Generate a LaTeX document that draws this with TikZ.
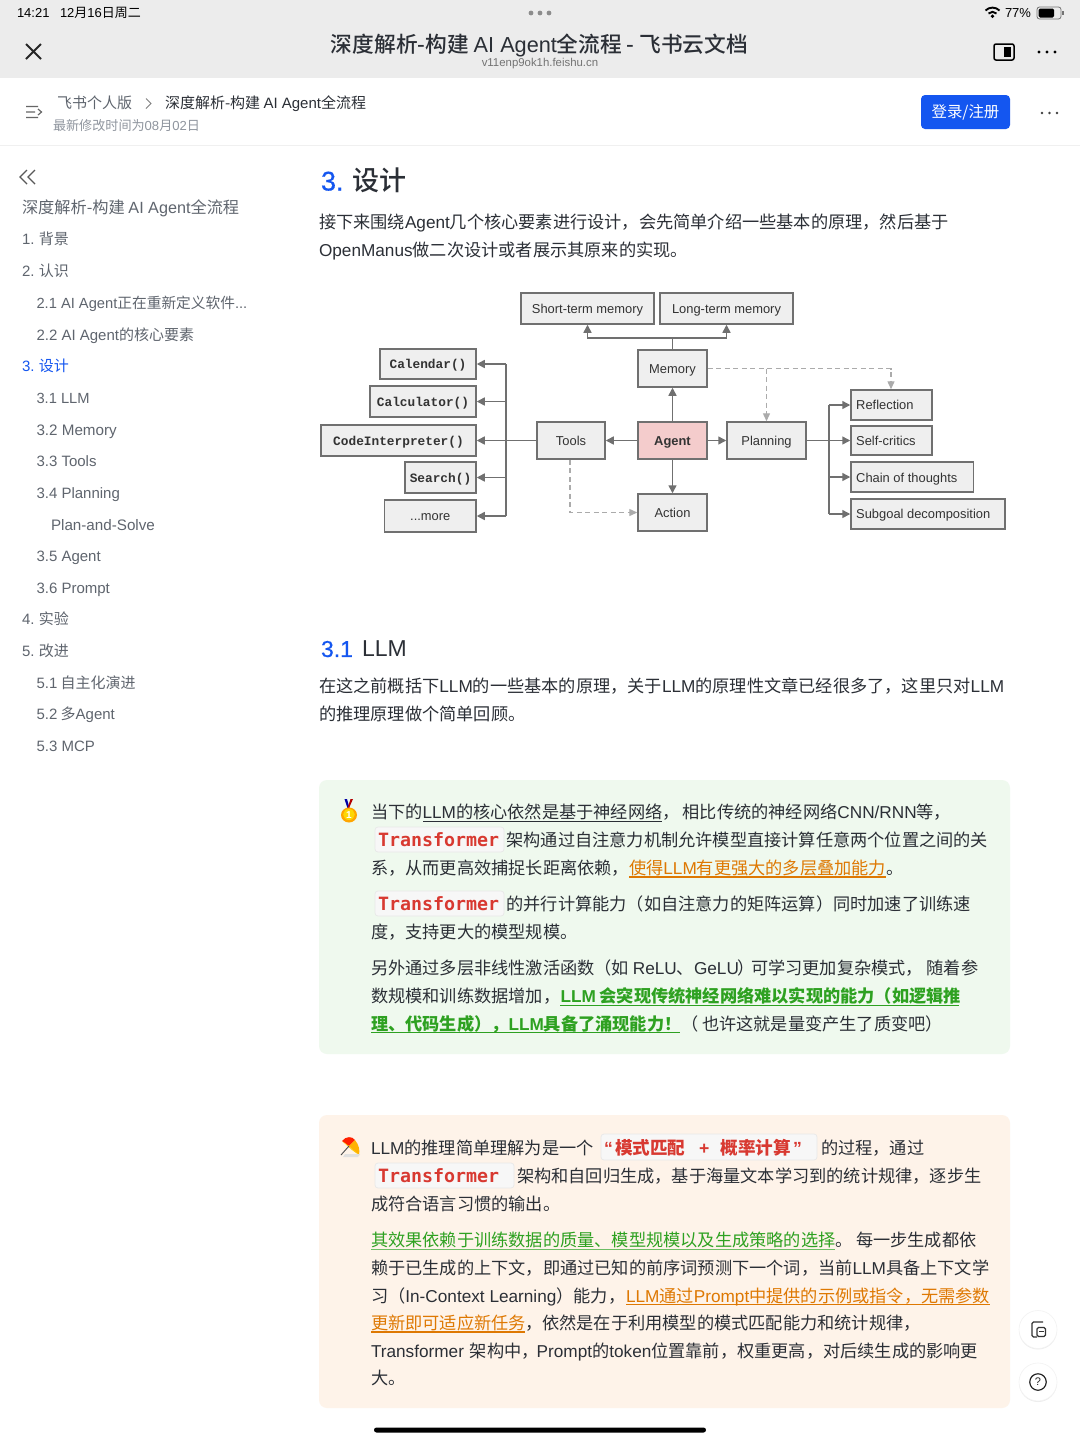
\documentclass[tikz,border=0pt]{standalone}
\usepackage{fontspec}
\setmainfont{Noto Sans CJK SC}
\newfontfamily\medfam{Noto Sans CJK SC Medium}
\newfontfamily\latnfam{Liberation Sans}
\newfontfamily\semifam[FakeBold=0.5]{Liberation Sans}
\newfontfamily\codefam{DejaVu Sans Mono}
\newfontfamily\fnfam{Liberation Mono}
\newcommand{\latn}[1]{{\latnfam #1}}
\usetikzlibrary{arrows.meta,shadows}
\definecolor{ink}{HTML}{2B2F36}
\definecolor{side}{HTML}{5F656E}
\definecolor{soft}{HTML}{8F959E}
\definecolor{blueA}{HTML}{1456F0}
\definecolor{redC}{HTML}{D83931}
\definecolor{orangeT}{HTML}{DE7802}
\definecolor{greenT}{HTML}{2EA121}
\definecolor{boxF}{HTML}{EFEFEF}
\definecolor{boxL}{HTML}{707070}
\definecolor{dashL}{HTML}{ABABAB}
\definecolor{greenBg}{HTML}{EFF9EE}
\definecolor{orangeBg}{HTML}{FEF3E9}
\definecolor{agentF}{HTML}{F4CCCC}
\newcounter{tn}
\newcommand{\T}[5]{\stepcounter{tn}\node[txt,text=#4] (t\arabic{tn}) at ({#1},{#2+0.39*#3}) {\fontsize{#3}{#3}\selectfont #5};}
\newcommand{\B}[3]{\T{#1}{#2}{17.2}{ink}{#3}}
\newcommand{\Code}[5]{\stepcounter{tn}\node[codebox,minimum width=#3-#1,minimum height=#4-#2] (c\arabic{tn}) at ({(#1+#3)/2},{(#2+#4)/2}) {}; \T{#1+3}{(#2+#4)/2-0.5}{18.3}{redC}{\codefam\bfseries #5}}
\tikzset{
 txt/.style={anchor=base west,inner sep=0pt,outer sep=0pt},
 codebox/.style={draw=black!9,fill=black!3,rounded corners=3pt,line width=0.7pt,inner sep=0pt},
 dbox/.style={draw=boxL,fill=boxF,line width=1.5pt,inner sep=0pt,text=black!80,text height=9pt,text depth=0pt,font=\latnfam\fontsize{12.9}{14}\selectfont},
 fnbox/.style={dbox,font=\fnfam\bfseries\fontsize{12.8}{14}\selectfont},
 arr/.style={draw=boxL,line width=1.5pt,-{Triangle[length=8pt,width=8pt]}},
 ln/.style={draw=boxL,line width=1.5pt},
 dsh/.style={draw=dashL,line width=1.3pt,dash pattern=on 5pt off 3.5pt,-{Triangle[length=8pt,width=7pt]}},
 rlabel/.style={anchor=west,inner sep=0pt,text=black!80,text height=9pt,text depth=0pt,font=\latnfam\fontsize{12.9}{14}\selectfont},
 ul/.style={line width=1.1pt},
 fab/.style={circle,fill=white,draw=black!5,line width=0.6pt,minimum size=38pt,inner sep=0pt,drop shadow={opacity=0.14,shadow xshift=0pt,shadow yshift=-1pt}}
}
\newcommand{\DB}[7][dbox]{\node[#1,minimum width=#5-#3,minimum height=#6-#4] (#2) at ({(#3+#5)/2},{(#4+#6)/2}) {#7};}
\begin{document}
\begin{tikzpicture}[x=1pt,y=-1pt]
\useasboundingbox (0,0) rectangle (1080,1441);
\fill[white] (0,0) rectangle (1080,1441);
% top bars
\fill[black!7.5] (0,0) rectangle (1080,78);
\fill[black!6] (0,144.5) rectangle (1080,146);
\T{17}{12.5}{13}{black}{\latn{14:21}}
\T{60}{12.5}{13}{black}{\latn{12}月\latn{16}日周二}
\foreach \xx in {531,540,549} \fill[black!45] (\xx,13) circle (2.4);
% wifi
\draw[black,line width=1.9pt] (985.5,10.5) arc[start angle=225,end angle=315,radius=9.9];
\draw[black,line width=1.9pt] (988.5,13.5) arc[start angle=225,end angle=315,radius=5.66];
\fill[black] (992.5,16.3) circle (1.9);
\T{1005}{12.5}{13}{black}{\latn{77\%}}
\draw[black!55,line width=0.8pt,rounded corners=2.5pt] (1037,7) rectangle (1061,19);
\fill[black,rounded corners=1.5pt] (1038.5,8.5) rectangle (1054,17.5);
\fill[black!55] (1062,11) rectangle (1063.5,15);
% nav
\draw[black!85,line width=1.8pt] (26,44) -- (41,59) (41,44) -- (26,59);
\node[anchor=center,inner sep=0pt,text=ink] (title) at (539.5,45) {\medfam\fontsize{21.7}{24}\selectfont 深度解析-构建 \latn{AI Agent}全流程 - 飞书云文档};
\node[anchor=center,inner sep=0pt,text=black!55] (url) at (540,64) {\latnfam\fontsize{11.4}{12}\selectfont v11enp9ok1h.feishu.cn};
\draw[black,line width=1.5pt,rounded corners=2pt] (994,44) rectangle (1014,60);
\fill[black] (1003.5,47) rectangle (1011,57);
\foreach \xx in {1039,1047,1055} \fill[black] (\xx,52) circle (1.6);
% breadcrumb
\draw[black!60,line width=1.2pt] (26,106.5) -- (38,106.5) (26,112) -- (35,112) (26,117.5) -- (38,117.5) (38,109) -- (41.5,112) -- (38,115);
\T{57}{103}{15}{side}{飞书个人版}
\draw[black!50,line width=1pt] (146,98.5) -- (151,103.5) -- (146,108.5);
\T{165}{103}{15}{ink}{深度解析-构建 \latn{AI Agent}全流程}
\T{53}{125}{13.1}{soft}{最新修改时间为\latn{08}月\latn{02}日}
\node[fill=blueA,rounded corners=4pt,minimum width=89pt,minimum height=34pt,inner sep=0pt,text=white] (login) at (965.5,112) {\fontsize{15.4}{17}\selectfont 登录/注册};
\foreach \xx in {1042,1049.5,1057} \fill[black!75] (\xx,113) circle (1.3);
% sidebar
\draw[black!65,line width=1.4pt] (27,170) -- (20,177) -- (27,184) (35,170) -- (28,177) -- (35,184);
\T{22}{207}{16.2}{side}{深度解析-构建 \latn{AI Agent}全流程}
\T{22}{239}{15}{side}{\latn{1.} 背景}
\T{22}{271}{15}{side}{\latn{2.} 认识}
\T{36.5}{303}{14.7}{side}{\latn{2.1 AI Agent}正在重新定义软件\latn{...}}
\T{36.5}{334.5}{15}{side}{\latn{2.2 AI Agent}的核心要素}
\T{22}{366}{15}{blueA}{\latn{3.} 设计}
\T{36.5}{397.5}{14.7}{side}{\latn{3.1 LLM}}
\T{36.5}{429.5}{15.2}{side}{\latn{3.2 Memory}}
\T{36.5}{461}{15}{side}{\latn{3.3 Tools}}
\T{36.5}{492.5}{15}{side}{\latn{3.4 Planning}}
\T{51}{524.5}{15.2}{side}{\latn{Plan-and-Solve}}
\T{36.5}{556}{15}{side}{\latn{3.5 Agent}}
\T{36.5}{587.5}{15}{side}{\latn{3.6 Prompt}}
\T{22}{619}{15}{side}{\latn{4.} 实验}
\T{22}{650.5}{15}{side}{\latn{5.} 改进}
\T{36.5}{682.5}{15}{side}{\latn{5.1} 自主化演进}
\T{36.5}{714}{15}{side}{\latn{5.2} 多\latn{Agent}}
\T{36.5}{745.5}{15}{side}{\latn{5.3 MCP}}
% headings
\T{321}{180}{27}{blueA}{\semifam 3.}
\T{352}{180}{27}{ink}{\medfam 设计}
\B{319}{222}{接下来围绕\latn{Agent}几个核心要素进行设计，会先简单介绍一些基本的原理，然后基于}
\B{319}{250}{\latn{OpenManus}做二次设计或者展示其原来的实现。}
\T{321}{648}{23}{blueA}{\semifam 3.1}
\T{362}{648}{23}{ink}{\latn{LLM}}
\B{319}{686}{在这之前概括下\latn{LLM}的一些基本的原理，关于\latn{LLM}的原理性文章已经很多了，这里只对\latn{LLM}}
\B{319}{714}{的推理原理做个简单回顾。}
% diagram
\DB{short}{521}{293}{654}{324}{Short-term memory}
\DB{long}{660}{293}{793}{324}{Long-term memory}
\DB{memory}{638}{350}{707}{387}{Memory}
\DB[dbox,fill=agentF,font=\latnfam\bfseries\fontsize{12.9}{14}\selectfont]{agent}{638}{422}{707}{459}{Agent}
\DB{tools}{537}{422}{605}{459}{Tools}
\DB{action}{638}{494}{707}{531}{Action}
\DB{planning}{727}{422}{806}{459}{Planning}
\DB[fnbox]{calendar}{380}{349}{476}{379}{Calendar()}
\DB[fnbox]{calculator}{370}{386}{476}{417}{Calculator()}
\DB[fnbox]{code}{321}{425}{476}{456}{CodeInterpreter()}
\DB[fnbox]{search}{405}{462}{476}{493}{Search()}
\DB{more}{384.5}{500}{476}{532}{...more}
\DB{reflection}{851}{390}{932}{420}{}
\DB{selfc}{851}{426}{932}{455}{}
\DB{chain}{851}{462}{973.5}{492}{}
\DB{subgoal}{851}{499}{1005}{529}{}
\node[rlabel] (reflectiont) at (856,405) {Reflection};
\node[rlabel] (selfct) at (856,441) {Self-critics};
\node[rlabel] (chaint) at (856,477.5) {Chain of thoughts};
\node[rlabel] (subgoalt) at (856,514) {Subgoal decomposition};
\coordinate (busL) at (506,440.5);
\coordinate (busR) at (829,440.5);
\coordinate (memj) at (672.5,338);
\coordinate (memd) at (766.5,368.5);
\draw[arr] (agent) -- (memory);
\draw[arr] (agent) -- (tools);
\draw[arr] (agent) -- (planning);
\draw[arr] (agent.south) -- (action.north);
\draw[ln] (memory.north) -- (memj);
\draw[arr] (memj) -| (short.south);
\draw[arr] (memj) -| (long.south);
\draw[arr] (tools.west) -- (code.east);
\draw[ln] (busL |- calendar.east) -- (busL |- more.east);
\draw[arr] (busL |- calendar.east) -- (calendar.east);
\draw[arr] (busL |- calculator.east) -- (calculator.east);
\draw[arr] (busL |- search.east) -- (search.east);
\draw[arr] (busL |- more.east) -- (more.east);
\draw[arr] (planning.east) -- (busR) -- (selfc.west);
\draw[ln] (busR |- reflection.west) -- (busR |- subgoal.west);
\draw[arr] (busR |- reflection.west) -- (reflection.west);
\draw[arr] (busR |- chain.west) -- (chain.west);
\draw[arr] (busR |- subgoal.west) -- (subgoal.west);
\draw[dsh] (memory.east) -| (reflection.north -| 891,0);
\draw[dsh] (memd) -- (planning.north);
\draw[dsh] (tools.south -| 570,0) |- (action.west);
% callouts
\fill[greenBg,rounded corners=8pt] (319,780) rectangle (1010,1054);
\fill[orangeBg,rounded corners=8pt] (319,1115) rectangle (1010,1408);
% medal
\fill[blue!65!black] (344.5,799) -- (347.5,808) -- (349.5,808) -- (347,799) -- cycle;
\fill[red!70!black] (353,799) -- (349,808) -- (347.5,808) -- (350.5,799) -- cycle;
\fill[orange!70!yellow] (349,815) ellipse (8 and 7.5);
\fill[yellow!75!orange] (349,814.5) ellipse (5.8 and 5.5);
\node[inner sep=0pt,text=white] (medal) at (349,815) {\latnfam\bfseries\fontsize{10}{10}\selectfont 1};
% umbrella
\fill[red!75!orange] (342,1141) .. controls (346,1136) and (352,1136) .. (355,1140) -- (349,1146) -- cycle;
\fill[orange!60!yellow] (355,1140) .. controls (359,1145) and (360,1150) .. (359,1155) -- (349,1146) -- cycle;
\fill[yellow!60!orange] (342,1141) -- (349,1146) -- (359,1155) -- (352,1150) -- cycle;
\draw[black!70,line width=0.9pt] (349,1146) -- (341,1155);
\fill[black!12] (345,1154) -- (360,1154) -- (358,1157) -- (343,1157) -- cycle;
% green text
\B{371}{812}{当下的\latn{LLM}的核心依然是基于神经网络，\hspace{3pt}相比传统的神经网络\latn{CNN/RNN}等，}
\draw[ink,ul] (423,821.5) -- (662,821.5);
\Code{375}{827}{504}{852}{Transformer}
\B{506.5}{840}{架构通过自注意力机制允许模型直接计算任意两个位置之间的关}
\B{371}{868}{系，从而更高效捕捉长距离依赖，}
\T{629}{868}{17.2}{orangeT}{使得\latn{LLM}有更强大的多层叠加能力}
\draw[orangeT,ul] (629,877) -- (886,877);
\T{886}{868}{17.2}{ink}{。}
\Code{375}{891}{504}{916}{Transformer}
\B{506.5}{904}{的并行计算能力（如自注意力的矩阵运算）同时加速了训练速}
\B{371}{932}{度，支持更大的模型规模。}
\B{371}{968}{另外通过多层非线性激活函数（如 \latn{ReLU}、\latn{GeLU}\hspace{-1.5pt}）\hspace{-3.5pt}可学习更加复杂模式，\hspace{3.5pt}随着参}
\B{371}{996}{数规模和训练数据增加，}
\T{560.5}{996}{17.2}{greenT}{\bfseries\latn{LLM} 会突现传统神经网络难以实现的能力（如逻辑推}
\draw[greenT,ul] (560,1005.5) -- (959,1005.5);
\T{371}{1023.5}{17.2}{greenT}{\bfseries 理、代码生成），\latn{LLM}具备了涌现能力！}
\draw[greenT,ul] (371,1032.5) -- (680,1032.5);
\B{681}{1023.5}{（ 也许这就是量变产生了质变吧）}
% orange text
\B{371}{1148}{\latn{LLM}的推理简单理解为是一个}
\Code{601}{1134}{817}{1160}{}
\T{604}{1148}{17.6}{redC}{\latn{\bfseries “}}
\T{615}{1148}{17.6}{redC}{\bfseries 模式匹配}
\T{699}{1148}{17.6}{redC}{\latn{\bfseries +}}
\T{720.5}{1148}{17.6}{redC}{\bfseries 概率计算}
\T{793}{1148}{17.6}{redC}{\latn{\bfseries ”}}
\B{821}{1148}{的过程，通过}
\Code{375}{1163}{514}{1188}{Transformer}
\B{517}{1176}{架构和自回归生成，基于海量文本学习到的统计规律，逐步生}
\B{371}{1204}{成符合语言习惯的输出。}
\T{371}{1240}{17.2}{greenT}{其效果依赖于训练数据的质量、模型规模以及生成策略的选择}
\draw[greenT!70,line width=1.6pt] (371,1249.5) -- (835,1249.5);
\B{835}{1240}{。\hspace{4pt}每一步生成都依}
\B{371}{1268}{赖于已生成的上下文，即通过已知的前序词预测下一个词，当前\latn{LLM}具备上下文学}
\B{371}{1295.5}{习（\latn{In-Context Learning}）能力，}
\T{626}{1295.5}{17.2}{orangeT}{\latn{LLM}通过\latn{Prompt}中提供的示例或指令，无需参数}
\draw[orangeT,ul] (626,1304.5) -- (990,1304.5);
\T{371}{1323}{17.2}{orangeT}{更新即可适应新任务}
\draw[orangeT,ul] (371,1332) -- (525,1332);
\B{525}{1323}{，依然是在于利用模型的模式匹配能力和统计规律，}
\B{371}{1350.5}{\latn{Transformer}\hspace{2pt} 架构中，\hspace{-2pt}\latn{Prompt}的\latn{token}位置靠前，权重更高，对后续生成的影响更}
\B{371}{1378}{大。}
% floating buttons
\node[fab] (docbtn) at (1038,1329.5) {};
\node[fab] (helpbtn) at (1038,1382) {};
\draw[black!80,line width=1.2pt,rounded corners=1.5pt] (1043,1322) -- (1032,1322) -- (1032,1337) -- (1037,1337);
\draw[black!80,line width=1.2pt,rounded corners=1.5pt] (1037,1327.5) rectangle (1045.5,1336.5);
\draw[black!80,line width=1pt] (1039,1331.5) -- (1043.5,1331.5);
\node[circle,draw=black!85,line width=1.2pt,minimum size=16.5pt,inner sep=0pt,text=black!85] (helpicon) at (1038,1382) {\latnfam\fontsize{11}{11}\selectfont ?};
% home bar
\fill[black,rounded corners=2.5pt] (374,1427.5) rectangle (706,1432.5);
\end{tikzpicture}
\end{document}
